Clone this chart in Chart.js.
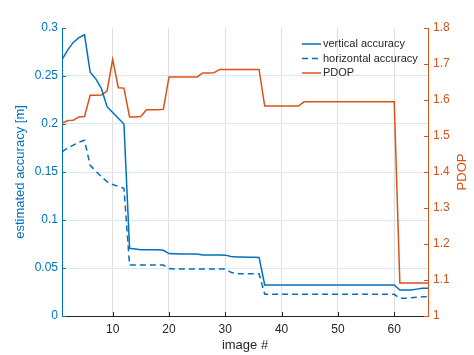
<!DOCTYPE html>
<html><head><meta charset="utf-8">
<script src="https://cdn.jsdelivr.net/npm/chart.js@4/dist/chart.umd.min.js"></script>
<style>html,body{margin:0;padding:0;background:#fff}#wrap{width:474px;height:355px;position:relative}</style>
</head><body><div id="wrap"><canvas id="c" width="474" height="355"></canvas></div>
<script>
const imageNo = [1,2,3,4,5,6,7,8,9,10,11,12,13,14,15,16,17,18,19,20,21,22,23,24,25,26,27,28,29,30,31,32,33,34,35,36,37,38,39,40,41,42,43,44,45,46,47,48,49,50,51,52,53,54,55,56,57,58,59,60,61,62,63,64,65,66];
const verticalAccuracy = [0.267,0.277,0.285,0.290,0.293,0.254,0.247,0.237,0.218,0.212,0.206,0.200,0.0705,0.0698,0.069,0.069,0.069,0.069,0.0685,0.065,0.0648,0.0646,0.0646,0.0645,0.0645,0.0636,0.0636,0.0635,0.0635,0.0634,0.062,0.0615,0.0615,0.0613,0.0612,0.061,0.0323,0.0323,0.0323,0.0323,0.0323,0.0323,0.0323,0.0323,0.0323,0.0323,0.0323,0.0323,0.0323,0.0323,0.0323,0.0323,0.0323,0.0323,0.0323,0.0323,0.0323,0.0323,0.0323,0.0323,0.027,0.027,0.027,0.028,0.0288,0.0288];
const horizontalAccuracy = [0.171,0.175,0.178,0.181,0.183,0.157,0.151,0.145,0.140,0.137,0.135,0.133,0.053,0.053,0.053,0.053,0.053,0.053,0.053,0.0495,0.049,0.049,0.049,0.049,0.049,0.049,0.049,0.049,0.049,0.049,0.0455,0.044,0.044,0.044,0.044,0.044,0.0226,0.0226,0.0226,0.0226,0.0226,0.0226,0.0226,0.0226,0.0226,0.0226,0.0226,0.0226,0.0226,0.0226,0.0226,0.0226,0.0226,0.0226,0.0226,0.0226,0.0226,0.0226,0.0226,0.0226,0.0185,0.0185,0.019,0.0195,0.020,0.020];
const pdop = [1.535,1.543,1.544,1.553,1.554,1.613,1.613,1.614,1.625,1.713,1.634,1.633,1.553,1.553,1.554,1.573,1.573,1.573,1.574,1.664,1.664,1.664,1.664,1.664,1.664,1.675,1.675,1.676,1.685,1.685,1.685,1.685,1.685,1.685,1.685,1.685,1.583,1.583,1.583,1.583,1.583,1.583,1.583,1.595,1.595,1.595,1.595,1.595,1.595,1.595,1.595,1.595,1.595,1.595,1.595,1.595,1.595,1.595,1.595,1.595,1.092,1.092,1.092,1.092,1.092,1.092];
const xTicks = [10,20,30,40,50,60];
const leftTicks = [0,0.05,0.1,0.15,0.2,0.25,0.3];
const rightTicks = [1,1.1,1.2,1.3,1.4,1.5,1.6,1.7,1.8];
const seriesLabels = ['vertical accuracy','horizontal accuracy','PDOP'];
const axisTitles = {x:'image #', left:'estimated accuracy [m]', right:'PDOP'};

const BLUE = '#0072BD', ORANGE = '#D95319', DARK = '#262626';
const FONT = '"Liberation Sans", Arial, Helvetica, sans-serif';

const pts = arr => arr.map((v,i)=>({x:imageNo[i], y:v}));

const decor = {
  id:'decor',
  afterDraw(chart){
    const ctx = chart.ctx, a = chart.chartArea;
    const sx = chart.scales.x, sy = chart.scales.y, sr = chart.scales.y1;
    ctx.save();
    ctx.lineWidth = 1;
    const TL = 4;
    // inward ticks
    ctx.strokeStyle = DARK;
    ctx.beginPath();
    xTicks.forEach(v=>{const p=Math.round(sx.getPixelForValue(v))+0.5; ctx.moveTo(p,a.bottom); ctx.lineTo(p,a.bottom-TL);});
    ctx.stroke();
    ctx.strokeStyle = BLUE;
    ctx.beginPath();
    leftTicks.forEach(v=>{const p=Math.round(sy.getPixelForValue(v))+0.5; ctx.moveTo(a.left,p); ctx.lineTo(a.left+TL,p);});
    ctx.stroke();
    ctx.strokeStyle = ORANGE;
    ctx.beginPath();
    rightTicks.forEach(v=>{const p=Math.round(sr.getPixelForValue(v))+0.5; ctx.moveTo(a.right,p); ctx.lineTo(a.right-TL,p);});
    ctx.stroke();
    // axis titles
    ctx.font = '13px ' + FONT;
    ctx.textAlign = 'center'; ctx.textBaseline = 'middle';
    ctx.fillStyle = DARK;
    ctx.fillText(axisTitles.x, (a.left+a.right)/2, 345);
    const midY = (a.top+a.bottom)/2;
    ctx.save(); ctx.translate(20, midY); ctx.rotate(-Math.PI/2);
    ctx.fillStyle = BLUE; ctx.fillText(axisTitles.left, 0, 0); ctx.restore();
    ctx.save(); ctx.translate(462, midY); ctx.rotate(-Math.PI/2);
    ctx.fillStyle = ORANGE; ctx.fillText(axisTitles.right, 0, 0); ctx.restore();
    // legend
    ctx.font = '11px ' + FONT;
    ctx.textAlign = 'left';
    const rows = [44, 58.5, 73];
    chart.data.datasets.forEach((ds,i)=>{
      const y = rows[i];
      ctx.strokeStyle = ds.borderColor; ctx.lineWidth = 1.5;
      ctx.setLineDash(ds.borderDash || []);
      ctx.beginPath(); ctx.moveTo(302, y); ctx.lineTo(321, y); ctx.stroke();
      ctx.setLineDash([]);
      ctx.fillStyle = DARK;
      ctx.fillText(ds.label, 323, y);
    });
    ctx.restore();
  }
};

new Chart(document.getElementById('c'), {
  type:'line',
  data:{datasets:[
    {label:seriesLabels[0], data:pts(verticalAccuracy), yAxisID:'y', borderColor:BLUE, borderWidth:1.5, pointRadius:0, tension:0, fill:false},
    {label:seriesLabels[1], data:pts(horizontalAccuracy), yAxisID:'y', borderColor:BLUE, borderWidth:1.5, borderDash:[6,4], pointRadius:0, tension:0, fill:false},
    {label:seriesLabels[2], data:pts(pdop), yAxisID:'y1', borderColor:ORANGE, borderWidth:1.5, pointRadius:0, tension:0, fill:false}
  ]},
  options:{
    responsive:false, animation:false, devicePixelRatio:1,
    layout:{padding:{top:28,left:0,right:0,bottom:0}},
    plugins:{legend:{display:false}, tooltip:{enabled:false}},
    scales:{
      x:{type:'linear', position:'bottom', min:1, max:66,
        afterBuildTicks:s=>{s.ticks = xTicks.map(v=>({value:v}));},
        afterFit:s=>{s.height = 39;},
        grid:{color:'#dfdfdf', drawTicks:false, lineWidth:1},
        border:{color:DARK, width:1},
        ticks:{color:DARK, padding:6, font:{family:FONT, size:12}, maxRotation:0, callback:v=>String(v)}
      },
      y:{type:'linear', position:'left', min:0, max:0.3,
        afterBuildTicks:s=>{s.ticks = leftTicks.map(v=>({value:v}));},
        afterFit:s=>{s.width = 62;},
        grid:{color:ctx=>(ctx.tick && ctx.tick.value>=0.3)?'rgba(0,0,0,0)':'#d9e8f4', drawTicks:false, lineWidth:1},
        border:{color:BLUE, width:1},
        ticks:{color:BLUE, padding:4, font:{family:FONT, size:12}, callback:v=>String(+(+v).toFixed(2))}
      },
      y1:{type:'linear', position:'right', min:1, max:1.8,
        afterBuildTicks:s=>{s.ticks = rightTicks.map(v=>({value:v}));},
        afterFit:s=>{s.width = 46;},
        grid:{drawOnChartArea:false, drawTicks:false},
        border:{color:ORANGE, width:1},
        ticks:{color:ORANGE, padding:5, font:{family:FONT, size:12}, callback:v=>String(+(+v).toFixed(1))}
      }
    }
  },
  plugins:[decor]
});
</script></body></html>
